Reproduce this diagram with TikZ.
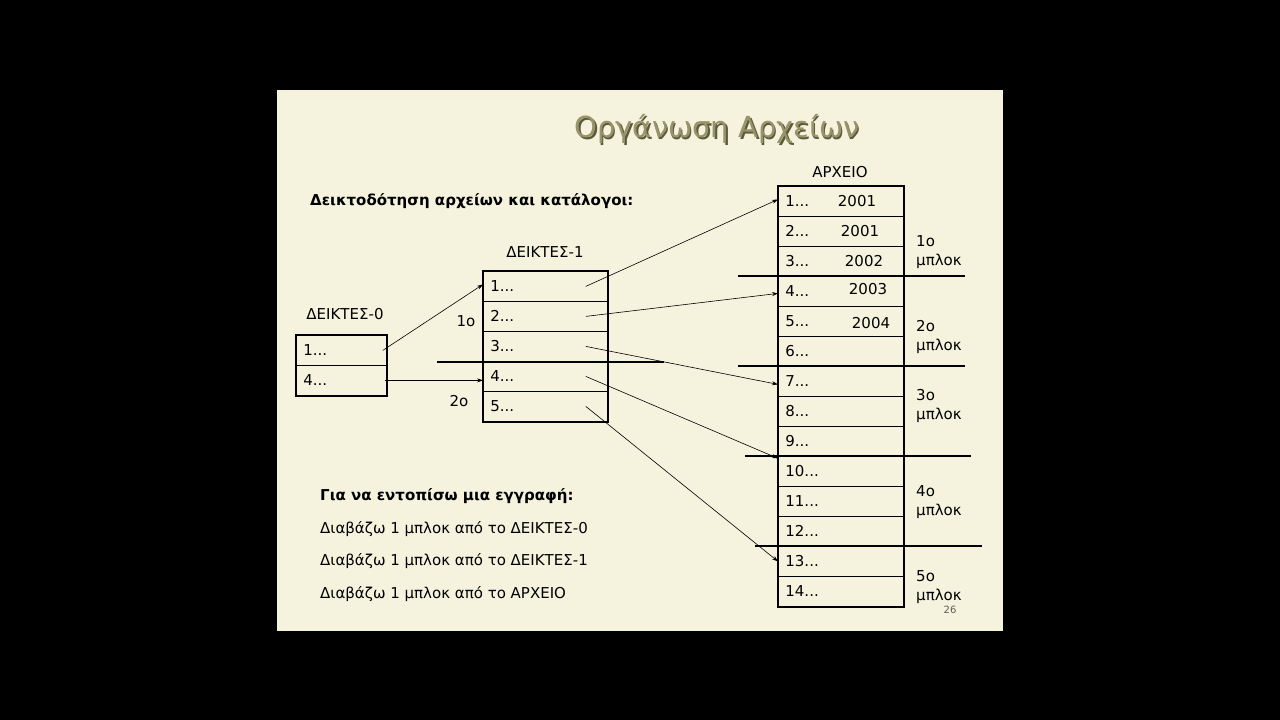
\documentclass[tikz,border=0pt]{standalone}
\usepackage{fontspec}
\setmainfont{DejaVu Sans}
\usetikzlibrary{arrows.meta}
\begin{document}
\begin{tikzpicture}[x=1pt,y=-1pt,
  txt/.style={font=\fontsize{15}{17}\selectfont, inner sep=0pt},
  row/.style={draw, line width=0.8pt, minimum width=#1, minimum height=30pt, anchor=north west, inner sep=6pt, font=\fontsize{15}{17}\selectfont, text width=#1-14pt, align=left},
  arr/.style={-{Stealth[length=6pt,width=4pt]}, line width=0.6pt},
  sep/.style={line width=1.2pt}]
\fill[black] (0,0) rectangle (1280,720);
\fill[fill={rgb,255:red,245;green,243;blue,222}] (277,90) rectangle (1003,631);
\node[font=\fontsize{29}{32}\selectfont, text={rgb,255:red,90;green,90;blue,60}] at (718.5,130.5) {Οργάνωση Αρχείων};
\node[font=\fontsize{29}{32}\selectfont, text={rgb,255:red,150;green,148;blue,105}] (title) at (717,129) {Οργάνωση Αρχείων};
\node[txt, anchor=west, font=\bfseries\fontsize{15}{17}\selectfont] (h1) at (310,201) {Δεικτοδότηση αρχείων και κατάλογοι:};
% ARXEIO
\node[txt] (lA) at (840,172) {ΑΡΧΕΙΟ};
\foreach \i in {1,...,14} {
  \node[row=125pt] (a\i) at (778,{186+(\i-1)*30}) {\i...};
}
\draw[line width=1.4pt] (a1.north west) rectangle (a14.south east);
\foreach \t/\x/\y in {2001/857/201,2001/860/231,2002/864/261,2003/868/289,2004/871/323}
  \node[txt] at (\x,\y) {\t};
\draw[sep] (738,276) -- (965,276);
\draw[sep] (738,366) -- (965,366);
\draw[sep] (745,456) -- (971,456);
\draw[sep] (755,546) -- (982,546);
\foreach \n/\y in {1ο/241,2ο/326,3ο/395,4ο/491,5ο/576}
  \node[txt, anchor=west, align=left] at (916,{\y+11}) {\n\\[2pt]μπλοκ};
\node[font=\fontsize{10}{12}\selectfont, text={rgb,255:red,90;green,90;blue,90}] at (950,610) {26};
% DEIKTES-1
\node[txt] (l1) at (545,252) {ΔΕΙΚΤΕΣ-1};
\foreach \i in {1,...,5} {
  \node[row=124pt] (b\i) at (483,{271+(\i-1)*30}) {\i...};
}
\draw[line width=1.4pt] (b1.north west) rectangle (b5.south east);
\draw[sep] (437,362) -- (664,362);
\node[txt] at (466,321) {1ο};
\node[txt] at (459,401) {2ο};
% DEIKTES-0
\node[txt] (l0) at (345,314) {ΔΕΙΚΤΕΣ-0};
\node[row=90pt] (c1) at (296,335) {1...};
\node[row=90pt] (c4) at (296,365) {4...};
\draw[line width=1.4pt] (c1.north west) rectangle (c4.south east);
% arrows
\draw[arr] ([xshift=-4pt]c1.east) -- ([yshift=2pt]b1.west);
\draw[arr] ([xshift=-2pt]c4.east) -- (b4.west |- c4.east);
\draw[arr] ([xshift=-22pt]b1.east) -- ([yshift=2pt]a1.west);
\draw[arr] ([xshift=-22pt]b2.east) -- ([yshift=-2pt]a4.west);
\draw[arr] ([xshift=-22pt]b3.east) -- ([yshift=-3pt]a7.west);
\draw[arr] ([xshift=-22pt]b4.east) -- ([yshift=13pt]a10.west);
\draw[arr] ([xshift=-22pt]b5.east) -- (a13.west);
% bottom text
\node[txt, anchor=west, font=\bfseries\fontsize{15}{17}\selectfont] at (320,496) {Για να εντοπίσω μια εγγραφή:};
\node[txt, anchor=west] at (320,529) {Διαβάζω 1 μπλοκ από το ΔΕΙΚΤΕΣ-0};
\node[txt, anchor=west] at (320,561) {Διαβάζω 1 μπλοκ από το ΔΕΙΚΤΕΣ-1};
\node[txt, anchor=west] at (320,594) {Διαβάζω 1 μπλοκ από το ΑΡΧΕΙΟ};
\end{tikzpicture}
\end{document}
